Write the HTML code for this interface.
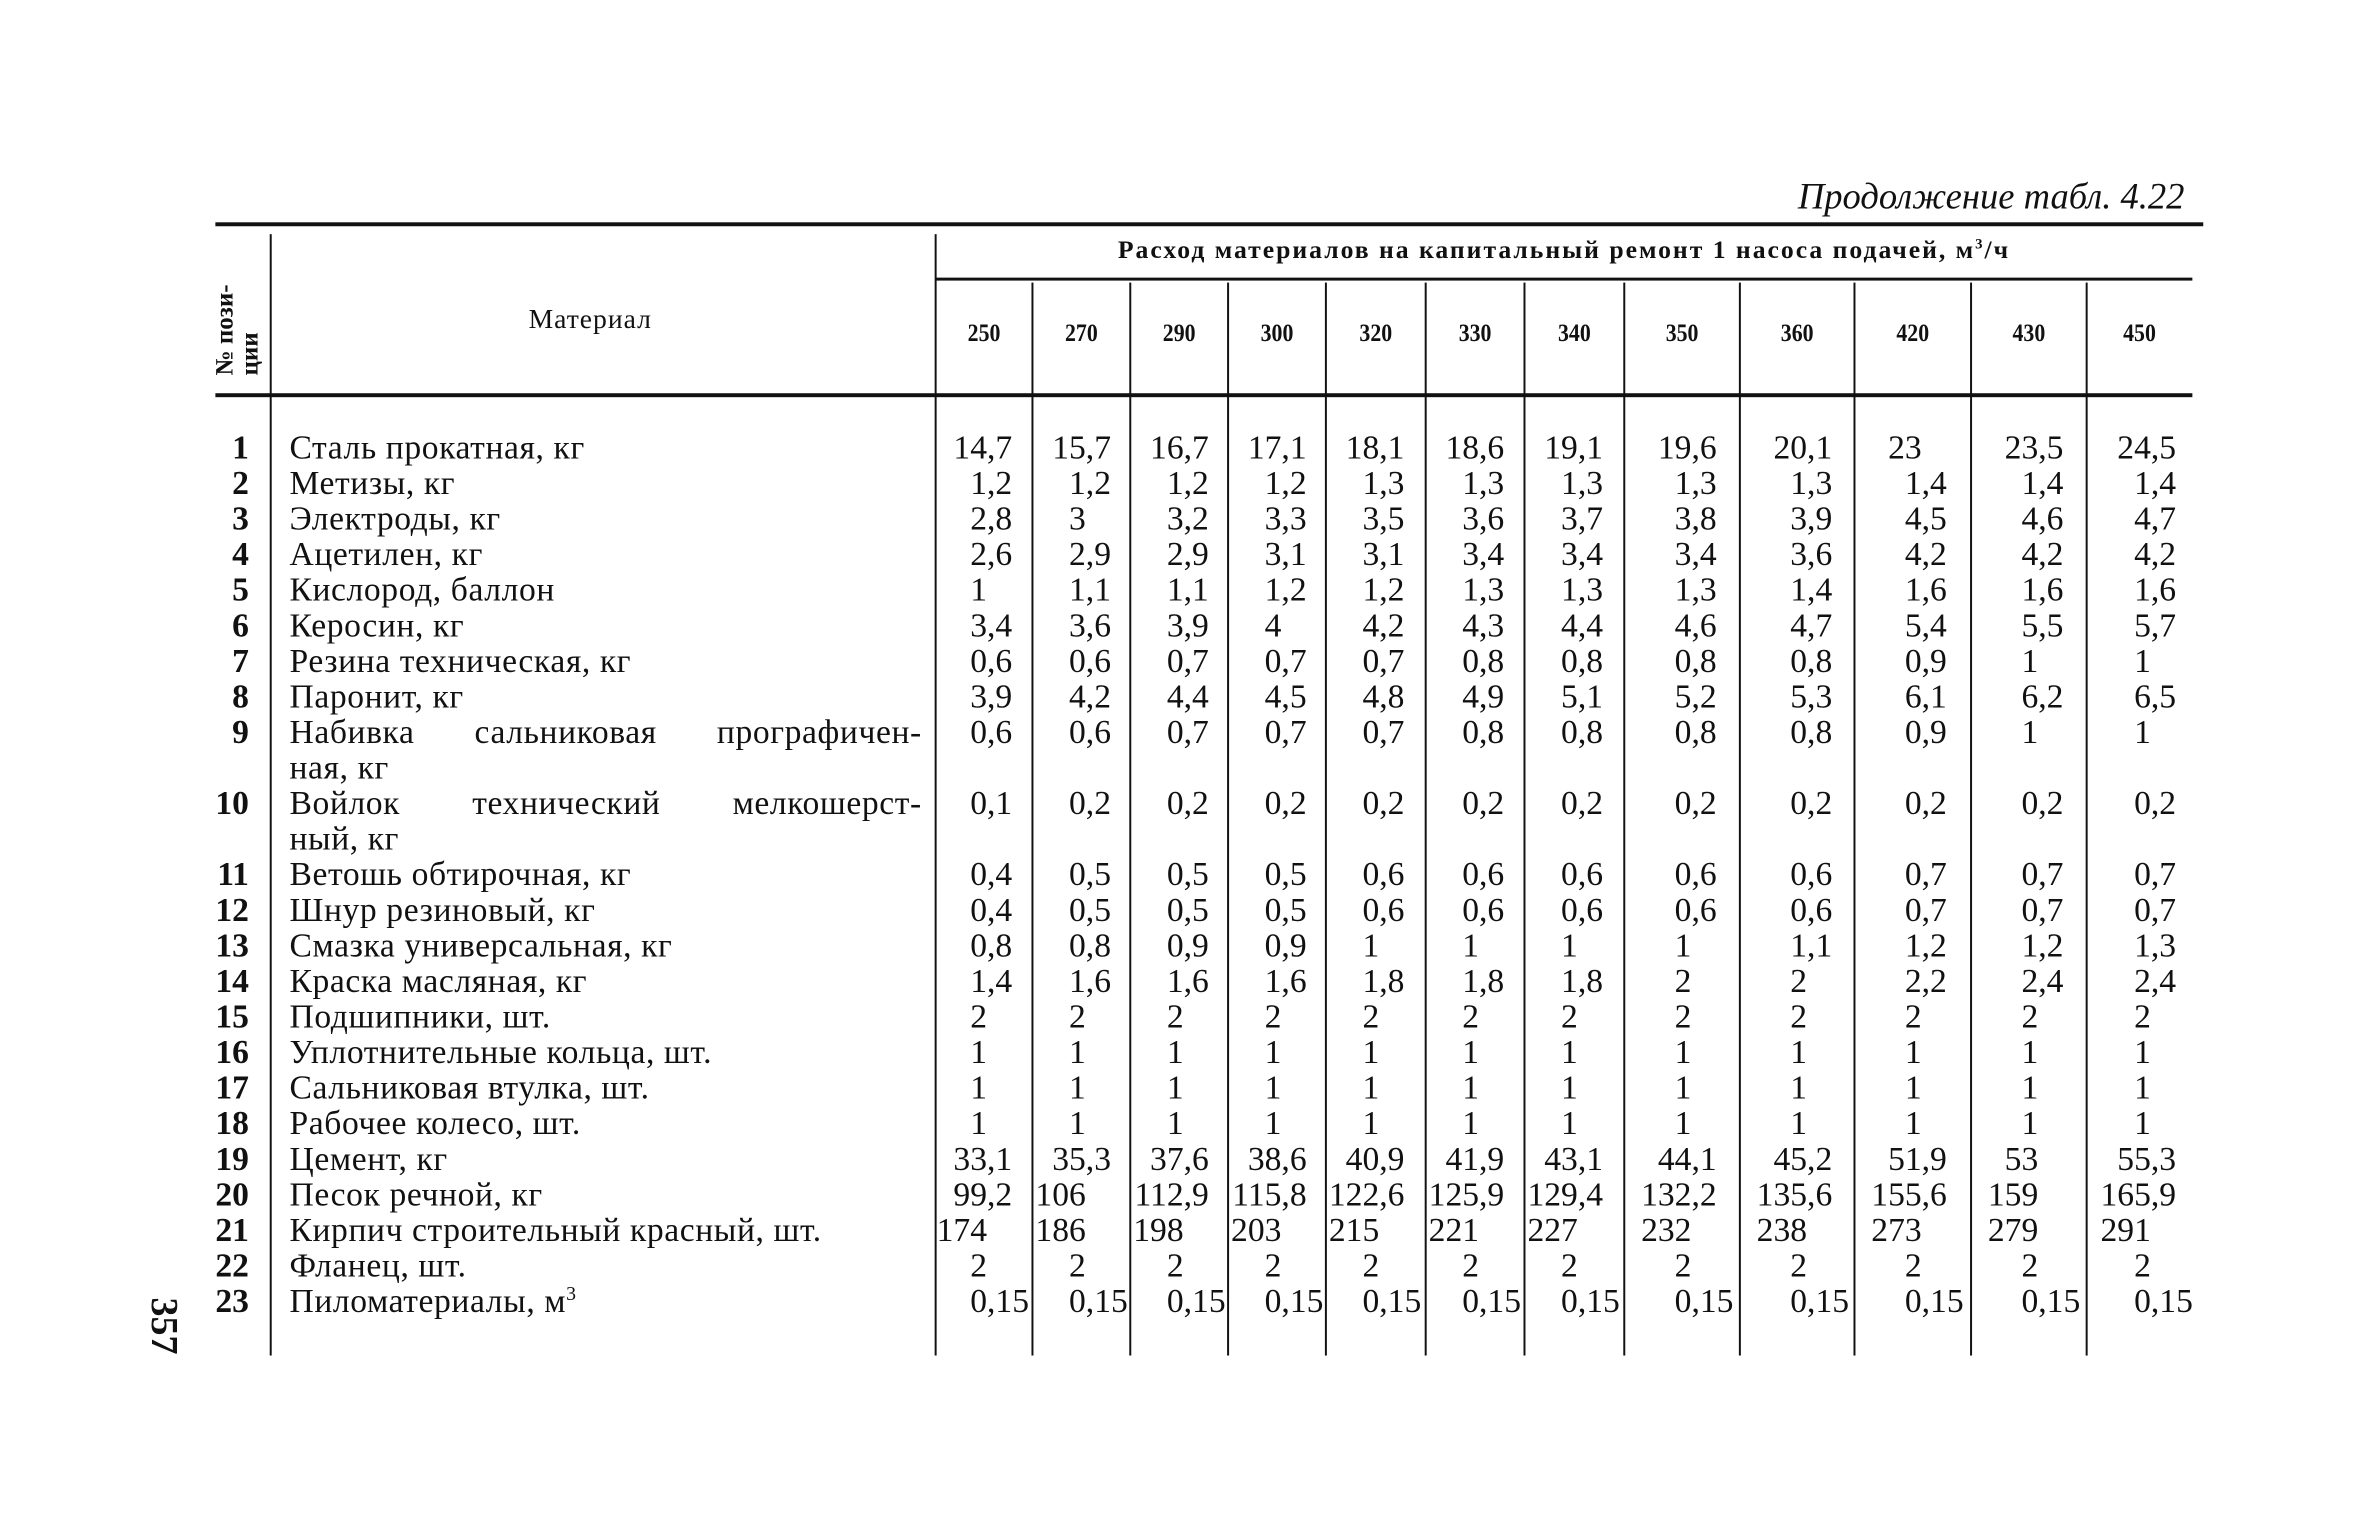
<!DOCTYPE html>
<html><head><meta charset="utf-8">
<style>
html,body{margin:0;padding:0;background:#fff;}
body{width:2363px;height:1535px;position:relative;overflow:hidden;font-family:"Liberation Serif","DejaVu Serif",serif;color:#111;}
#w{position:absolute;left:0;top:0;width:2363px;height:1535px;transform:scale(0.988);transform-origin:0 0;}
.h{position:absolute;background:#111;}
.v{position:absolute;background:#111;width:2px;}
.t{position:absolute;white-space:nowrap;}
.r{position:absolute;left:0;width:2363px;height:36px;line-height:36px;font-size:34px;}
.r .n{position:absolute;left:0;width:252px;text-align:right;font-weight:bold;}
.r .m{position:absolute;left:293px;letter-spacing:0.6px;}
.r b{position:absolute;font-weight:normal;top:0;}
.r b u{display:inline-block;width:52px;text-align:right;text-decoration:none;}
.r b:nth-of-type(1){left:947px}
.r b:nth-of-type(2){left:1047px}
.r b:nth-of-type(3){left:1146px}
.r b:nth-of-type(4){left:1245px}
.r b:nth-of-type(5){left:1344px}
.r b:nth-of-type(6){left:1445px}
.r b:nth-of-type(7){left:1545px}
.r b:nth-of-type(8){left:1660px}
.r b:nth-of-type(9){left:1777px}
.r b:nth-of-type(10){left:1893px}
.r b:nth-of-type(11){left:2011px}
.r b:nth-of-type(12){left:2125px}
.hn{position:absolute;top:322px;font-size:26px;font-weight:bold;text-align:center;transform:scaleX(0.85);}
sup{line-height:0;vertical-align:super;}
</style></head><body>
<div id="w">
<div class="t" style="right:152px;top:178px;font-size:37px;font-style:italic;">Продолжение табл. 4.22</div>
<div class="h" style="left:218px;top:225px;width:2012px;height:4px;"></div>
<div class="h" style="left:947px;top:281px;width:1272px;height:3px;"></div>
<div class="h" style="left:218px;top:398px;width:2001px;height:4px;"></div>
<div class="v" style="left:273px;top:237px;height:1135px;"></div>
<div class="v" style="left:946px;top:237px;height:1135px;"></div>
<div class="v" style="left:1044px;top:286px;height:1086px;"></div>
<div class="v" style="left:1143px;top:286px;height:1086px;"></div>
<div class="v" style="left:1242px;top:286px;height:1086px;"></div>
<div class="v" style="left:1341px;top:286px;height:1086px;"></div>
<div class="v" style="left:1442px;top:286px;height:1086px;"></div>
<div class="v" style="left:1542px;top:286px;height:1086px;"></div>
<div class="v" style="left:1643px;top:286px;height:1086px;"></div>
<div class="v" style="left:1760px;top:286px;height:1086px;"></div>
<div class="v" style="left:1876px;top:286px;height:1086px;"></div>
<div class="v" style="left:1994px;top:286px;height:1086px;"></div>
<div class="v" style="left:2111px;top:286px;height:1086px;"></div>

<div class="t" style="left:947px;width:1272px;top:238px;font-size:26px;font-weight:bold;text-align:center;letter-spacing:2px;">Расход материалов на капитальный ремонт 1 насоса подачей, м<sup style="font-size:15px">3</sup>/ч</div>
<div class="t" style="left:535px;top:308px;font-size:28px;letter-spacing:1px;">Материал</div>

<div class="hn" style="left:947px;width:98px">250</div>
<div class="hn" style="left:1045px;width:99px">270</div>
<div class="hn" style="left:1144px;width:99px">290</div>
<div class="hn" style="left:1243px;width:99px">300</div>
<div class="hn" style="left:1342px;width:101px">320</div>
<div class="hn" style="left:1443px;width:100px">330</div>
<div class="hn" style="left:1543px;width:101px">340</div>
<div class="hn" style="left:1644px;width:117px">350</div>
<div class="hn" style="left:1761px;width:116px">360</div>
<div class="hn" style="left:1877px;width:118px">420</div>
<div class="hn" style="left:1995px;width:117px">430</div>
<div class="hn" style="left:2112px;width:107px">450</div>

<div class="r" style="top:436px"><span class="n">1</span><span class="m">Сталь прокатная, кг</span><b><u>14</u>,7</b><b><u>15</u>,7</b><b><u>16</u>,7</b><b><u>17</u>,1</b><b><u>18</u>,1</b><b><u>18</u>,6</b><b><u>19</u>,1</b><b><u>19</u>,6</b><b><u>20</u>,1</b><b><u>23</u></b><b><u>23</u>,5</b><b><u>24</u>,5</b></div>
<div class="r" style="top:472px"><span class="n">2</span><span class="m">Метизы, кг</span><b><u>1</u>,2</b><b><u>1</u>,2</b><b><u>1</u>,2</b><b><u>1</u>,2</b><b><u>1</u>,3</b><b><u>1</u>,3</b><b><u>1</u>,3</b><b><u>1</u>,3</b><b><u>1</u>,3</b><b><u>1</u>,4</b><b><u>1</u>,4</b><b><u>1</u>,4</b></div>
<div class="r" style="top:508px"><span class="n">3</span><span class="m">Электроды, кг</span><b><u>2</u>,8</b><b><u>3</u></b><b><u>3</u>,2</b><b><u>3</u>,3</b><b><u>3</u>,5</b><b><u>3</u>,6</b><b><u>3</u>,7</b><b><u>3</u>,8</b><b><u>3</u>,9</b><b><u>4</u>,5</b><b><u>4</u>,6</b><b><u>4</u>,7</b></div>
<div class="r" style="top:544px"><span class="n">4</span><span class="m">Ацетилен, кг</span><b><u>2</u>,6</b><b><u>2</u>,9</b><b><u>2</u>,9</b><b><u>3</u>,1</b><b><u>3</u>,1</b><b><u>3</u>,4</b><b><u>3</u>,4</b><b><u>3</u>,4</b><b><u>3</u>,6</b><b><u>4</u>,2</b><b><u>4</u>,2</b><b><u>4</u>,2</b></div>
<div class="r" style="top:580px"><span class="n">5</span><span class="m">Кислород, баллон</span><b><u>1</u></b><b><u>1</u>,1</b><b><u>1</u>,1</b><b><u>1</u>,2</b><b><u>1</u>,2</b><b><u>1</u>,3</b><b><u>1</u>,3</b><b><u>1</u>,3</b><b><u>1</u>,4</b><b><u>1</u>,6</b><b><u>1</u>,6</b><b><u>1</u>,6</b></div>
<div class="r" style="top:616px"><span class="n">6</span><span class="m">Керосин, кг</span><b><u>3</u>,4</b><b><u>3</u>,6</b><b><u>3</u>,9</b><b><u>4</u></b><b><u>4</u>,2</b><b><u>4</u>,3</b><b><u>4</u>,4</b><b><u>4</u>,6</b><b><u>4</u>,7</b><b><u>5</u>,4</b><b><u>5</u>,5</b><b><u>5</u>,7</b></div>
<div class="r" style="top:652px"><span class="n">7</span><span class="m">Резина техническая, кг</span><b><u>0</u>,6</b><b><u>0</u>,6</b><b><u>0</u>,7</b><b><u>0</u>,7</b><b><u>0</u>,7</b><b><u>0</u>,8</b><b><u>0</u>,8</b><b><u>0</u>,8</b><b><u>0</u>,8</b><b><u>0</u>,9</b><b><u>1</u></b><b><u>1</u></b></div>
<div class="r" style="top:688px"><span class="n">8</span><span class="m">Паронит, кг</span><b><u>3</u>,9</b><b><u>4</u>,2</b><b><u>4</u>,4</b><b><u>4</u>,5</b><b><u>4</u>,8</b><b><u>4</u>,9</b><b><u>5</u>,1</b><b><u>5</u>,2</b><b><u>5</u>,3</b><b><u>6</u>,1</b><b><u>6</u>,2</b><b><u>6</u>,5</b></div>
<div class="r" style="top:724px"><span class="n">9</span><span class="m" style="width:640px;display:flex;justify-content:space-between;"><span>Набивка</span><span>сальниковая</span><span>прографичен-</span></span><b><u>0</u>,6</b><b><u>0</u>,6</b><b><u>0</u>,7</b><b><u>0</u>,7</b><b><u>0</u>,7</b><b><u>0</u>,8</b><b><u>0</u>,8</b><b><u>0</u>,8</b><b><u>0</u>,8</b><b><u>0</u>,9</b><b><u>1</u></b><b><u>1</u></b></div>
<div class="r" style="top:760px"><span class="m">ная, кг</span></div>
<div class="r" style="top:796px"><span class="n">10</span><span class="m" style="width:640px;display:flex;justify-content:space-between;"><span>Войлок</span><span>технический</span><span>мелкошерст-</span></span><b><u>0</u>,1</b><b><u>0</u>,2</b><b><u>0</u>,2</b><b><u>0</u>,2</b><b><u>0</u>,2</b><b><u>0</u>,2</b><b><u>0</u>,2</b><b><u>0</u>,2</b><b><u>0</u>,2</b><b><u>0</u>,2</b><b><u>0</u>,2</b><b><u>0</u>,2</b></div>
<div class="r" style="top:832px"><span class="m">ный, кг</span></div>
<div class="r" style="top:868px"><span class="n">11</span><span class="m">Ветошь обтирочная, кг</span><b><u>0</u>,4</b><b><u>0</u>,5</b><b><u>0</u>,5</b><b><u>0</u>,5</b><b><u>0</u>,6</b><b><u>0</u>,6</b><b><u>0</u>,6</b><b><u>0</u>,6</b><b><u>0</u>,6</b><b><u>0</u>,7</b><b><u>0</u>,7</b><b><u>0</u>,7</b></div>
<div class="r" style="top:904px"><span class="n">12</span><span class="m">Шнур резиновый, кг</span><b><u>0</u>,4</b><b><u>0</u>,5</b><b><u>0</u>,5</b><b><u>0</u>,5</b><b><u>0</u>,6</b><b><u>0</u>,6</b><b><u>0</u>,6</b><b><u>0</u>,6</b><b><u>0</u>,6</b><b><u>0</u>,7</b><b><u>0</u>,7</b><b><u>0</u>,7</b></div>
<div class="r" style="top:940px"><span class="n">13</span><span class="m">Смазка универсальная, кг</span><b><u>0</u>,8</b><b><u>0</u>,8</b><b><u>0</u>,9</b><b><u>0</u>,9</b><b><u>1</u></b><b><u>1</u></b><b><u>1</u></b><b><u>1</u></b><b><u>1</u>,1</b><b><u>1</u>,2</b><b><u>1</u>,2</b><b><u>1</u>,3</b></div>
<div class="r" style="top:976px"><span class="n">14</span><span class="m">Краска масляная, кг</span><b><u>1</u>,4</b><b><u>1</u>,6</b><b><u>1</u>,6</b><b><u>1</u>,6</b><b><u>1</u>,8</b><b><u>1</u>,8</b><b><u>1</u>,8</b><b><u>2</u></b><b><u>2</u></b><b><u>2</u>,2</b><b><u>2</u>,4</b><b><u>2</u>,4</b></div>
<div class="r" style="top:1012px"><span class="n">15</span><span class="m">Подшипники, шт.</span><b><u>2</u></b><b><u>2</u></b><b><u>2</u></b><b><u>2</u></b><b><u>2</u></b><b><u>2</u></b><b><u>2</u></b><b><u>2</u></b><b><u>2</u></b><b><u>2</u></b><b><u>2</u></b><b><u>2</u></b></div>
<div class="r" style="top:1048px"><span class="n">16</span><span class="m">Уплотнительные кольца, шт.</span><b><u>1</u></b><b><u>1</u></b><b><u>1</u></b><b><u>1</u></b><b><u>1</u></b><b><u>1</u></b><b><u>1</u></b><b><u>1</u></b><b><u>1</u></b><b><u>1</u></b><b><u>1</u></b><b><u>1</u></b></div>
<div class="r" style="top:1084px"><span class="n">17</span><span class="m">Сальниковая втулка, шт.</span><b><u>1</u></b><b><u>1</u></b><b><u>1</u></b><b><u>1</u></b><b><u>1</u></b><b><u>1</u></b><b><u>1</u></b><b><u>1</u></b><b><u>1</u></b><b><u>1</u></b><b><u>1</u></b><b><u>1</u></b></div>
<div class="r" style="top:1120px"><span class="n">18</span><span class="m">Рабочее колесо, шт.</span><b><u>1</u></b><b><u>1</u></b><b><u>1</u></b><b><u>1</u></b><b><u>1</u></b><b><u>1</u></b><b><u>1</u></b><b><u>1</u></b><b><u>1</u></b><b><u>1</u></b><b><u>1</u></b><b><u>1</u></b></div>
<div class="r" style="top:1156px"><span class="n">19</span><span class="m">Цемент, кг</span><b><u>33</u>,1</b><b><u>35</u>,3</b><b><u>37</u>,6</b><b><u>38</u>,6</b><b><u>40</u>,9</b><b><u>41</u>,9</b><b><u>43</u>,1</b><b><u>44</u>,1</b><b><u>45</u>,2</b><b><u>51</u>,9</b><b><u>53</u></b><b><u>55</u>,3</b></div>
<div class="r" style="top:1192px"><span class="n">20</span><span class="m">Песок речной, кг</span><b><u>99</u>,2</b><b><u>106</u></b><b><u>112</u>,9</b><b><u>115</u>,8</b><b><u>122</u>,6</b><b><u>125</u>,9</b><b><u>129</u>,4</b><b><u>132</u>,2</b><b><u>135</u>,6</b><b><u>155</u>,6</b><b><u>159</u></b><b><u>165</u>,9</b></div>
<div class="r" style="top:1228px"><span class="n">21</span><span class="m">Кирпич строительный красный, шт.</span><b><u>174</u></b><b><u>186</u></b><b><u>198</u></b><b><u>203</u></b><b><u>215</u></b><b><u>221</u></b><b><u>227</u></b><b><u>232</u></b><b><u>238</u></b><b><u>273</u></b><b><u>279</u></b><b><u>291</u></b></div>
<div class="r" style="top:1264px"><span class="n">22</span><span class="m">Фланец, шт.</span><b><u>2</u></b><b><u>2</u></b><b><u>2</u></b><b><u>2</u></b><b><u>2</u></b><b><u>2</u></b><b><u>2</u></b><b><u>2</u></b><b><u>2</u></b><b><u>2</u></b><b><u>2</u></b><b><u>2</u></b></div>
<div class="r" style="top:1300px"><span class="n">23</span><span class="m">Пиломатериалы, м<sup style="font-size:20px">3</sup></span><b><u>0</u>,15</b><b><u>0</u>,15</b><b><u>0</u>,15</b><b><u>0</u>,15</b><b><u>0</u>,15</b><b><u>0</u>,15</b><b><u>0</u>,15</b><b><u>0</u>,15</b><b><u>0</u>,15</b><b><u>0</u>,15</b><b><u>0</u>,15</b><b><u>0</u>,15</b></div>
</div>

<div class="t" style="left:180px;top:293px;width:115px;height:50px;font-size:25px;font-weight:bold;line-height:25px;transform:rotate(-90deg);transform-origin:center;text-align:left;">№ пози-<br>ции</div>
<div class="t" style="left:134px;top:1306px;width:60px;height:40px;line-height:40px;text-align:center;font-size:38px;font-weight:bold;transform:rotate(90deg);transform-origin:center;">357</div>
</body></html>
